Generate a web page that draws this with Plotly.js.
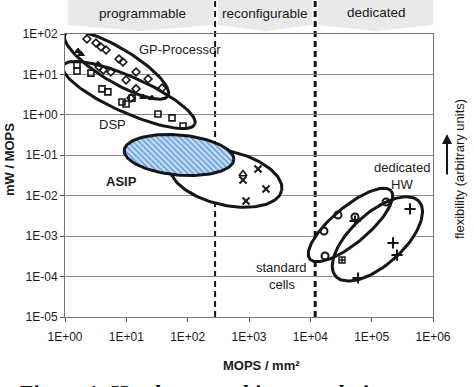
<!DOCTYPE html>
<html><head><meta charset="utf-8">
<script src="https://cdn.plot.ly/plotly-3.0.1.min.js"></script>
<style>html,body{margin:0;padding:0;background:#fff;}#chart{width:474px;height:387px;}</style>
</head><body><div id="chart"></div>
<script>
// ---------------- data ----------------
const xTickVals = [1, 10, 100, 1e3, 1e4, 1e5, 1e6];
const xTickText = ['1E+00','1E+01','1E+02','1E+03','1E+04','1E+05','1E+06'];
const yTickVals = [1e-5, 1e-4, 1e-3, 1e-2, 1e-1, 1, 10, 100];
const yTickText = ['1E-05','1E-04','1E-03','1E-02','1E-01','1E+00','1E+01','1E+02'];

const regionNames = ['programmable', 'reconfigurable', 'dedicated'];
const regionBounds = [280, 12000];   // MOPS/mm² at the dashed borders

const gpX = [2.28, 3.2, 3.86, 4.67, 7.6, 8.8, 14.4, 22.6, 38.2, 9.9, 14.4, 5.6, 4.2, 3.6, 11.9];
const gpY = [75.2, 59.8, 47.6, 40.2, 24.1, 20.3, 11.5, 7.7, 4.6, 7.3, 4.4, 11.5, 12.9, 15.3, 2.6];
const triX = [1.63, 1.82, 3.45, 18.7, 26.2];
const triY = [38, 32, 18.1, 2.77, 2.6];
const dspX = [1.57, 1.57, 2.65, 4.0, 5.0, 8.5, 9.9, 12.4, 32.8, 55.6, 84];
const dspY = [17.1, 12.2, 10.8, 4.4, 3.7, 2.08, 1.86, 2.6, 1.05, 0.84, 0.53];
const asipTriX = [798];
const asipTriY = [0.0344];
const asipX = [798, 1403, 1893, 894];
const asipY = [0.0245, 0.0458, 0.0147, 0.0074];
const cellX = [28250, 53500, 16700, 17350, 171400];
const cellY = [0.00334, 0.00298, 0.00134, 0.000323, 0.0070];
const hwX = [422000, 222900, 259000, 59900, 53500];
const hwY = [0.0047, 0.00068, 0.00034, 0.0000922, 0.00237];
const hwSqX = [32850];
const hwSqY = [0.000257];

// cluster outlines: centre (data units), semi-axes in px, rotation in degrees
const clusterNames = ['GP-Processor', 'DSP', 'ASIP range', 'ASIP', 'standard cells', 'dedicated HW'];
const clusterCX = [6.92, 11.05, 422, 72.3, 45200, 124000];
const clusterCY = [17.1, 3.1, 0.0274, 0.1016, 0.00189, 0.000855];
const clusterGeom = [
  {a: 60, b: 17, rot: 31, fill: 'none'},
  {a: 72, b: 18, rot: 24, fill: 'none'},
  {a: 57, b: 27, rot: 13, fill: 'white'},
  {a: 55, b: 20, rot: 5, fill: 'hatch'},
  {a: 53, b: 18, rot: -40, fill: 'white'},
  {a: 56, b: 26, rot: -42, fill: 'white'}
];

// ---------------- layout geometry ----------------
const W = 474, H = 387;
const M = {l: 65, r: 41, t: 34, b: 70};
const PW = W - M.l - M.r, PH = H - M.t - M.b;
const XR = [0, 6], YR = [-5, 2];
const sx = PW / (XR[1] - XR[0]), sy = PH / (YR[1] - YR[0]);
const px = v => (v - M.l) / PW;          // pixel -> paper
const py = v => (M.t + PH - v) / PH;

function ellipsePts(cx, cy, g) {
  const xs = [], ys = [];
  const lcx = Math.log10(cx), lcy = Math.log10(cy);
  const th = g.rot * Math.PI / 180;
  for (let i = 0; i <= 120; i++) {
    const t = i / 120 * 2 * Math.PI;
    const dx = g.a * Math.cos(t) * Math.cos(th) - g.b * Math.sin(t) * Math.sin(th);
    const dy = g.a * Math.cos(t) * Math.sin(th) + g.b * Math.sin(t) * Math.cos(th);
    xs.push(Math.pow(10, lcx + dx / sx));
    ys.push(Math.pow(10, lcy - dy / sy));
  }
  return {xs, ys};
}

const traces = [];
const INK = '#161616';
function outline(i, withFill) {
  const e = ellipsePts(clusterCX[i], clusterCY[i], clusterGeom[i]);
  const g = clusterGeom[i];
  const tr = {x: e.xs, y: e.ys, mode: 'lines', type: 'scatter', name: clusterNames[i],
    hoverinfo: 'skip', showlegend: false, line: {color: INK, width: 3}};
  if (withFill) {
    tr.fill = 'toself';
    if (g.fill === 'hatch') {
      tr.fillcolor = '#c4dbf3';
      tr.fillpattern = {shape: '\\', fgcolor: '#5f9fdc', bgcolor: '#c9def4', size: 4, solidity: 0.4};
    } else {
      tr.fillcolor = 'white';
    }
  }
  return tr;
}
function fillOnly(i) {
  const e = ellipsePts(clusterCX[i], clusterCY[i], clusterGeom[i]);
  return {x: e.xs, y: e.ys, mode: 'lines', type: 'scatter', hoverinfo: 'skip', showlegend: false,
    line: {width: 0, color: 'white'}, fill: 'toself', fillcolor: 'white'};
}
traces.push(outline(2, true));
traces.push(outline(3, true));
traces.push(fillOnly(4));
traces.push(fillOnly(5));
traces.push(outline(4, false));
traces.push(outline(5, false));
traces.push(outline(0, false));
traces.push(outline(1, false));

function pts(x, y, symbol, size, lw, name) {
  return {x, y, name, type: 'scatter', mode: 'markers', showlegend: false, hoverinfo: 'x+y',
    marker: {symbol, size, color: INK, line: {color: INK, width: lw}}};
}
traces.push(pts(gpX, gpY, 'diamond-open', 6, 1.6, 'GP-Processor'));
traces.push(pts(triX, triY, 'triangle-up', 6, 1, 'other'));
traces.push(pts(dspX, dspY, 'square-open', 6, 1.6, 'DSP'));
traces.push(pts(asipTriX, asipTriY, 'triangle-up-open', 7, 1.6, 'ASIP'));
traces.push(pts(asipX, asipY, 'x-thin-open', 7, 2, 'ASIP'));
traces.push(pts(cellX, cellY, 'circle-open', 7, 2, 'standard cells'));
traces.push(pts(hwX, hwY, 'cross-thin-open', 8, 2, 'dedicated HW'));
traces.push(pts(hwSqX, hwSqY, 'square-cross-open', 6, 1.4, 'dedicated HW'));

// ---------------- shapes ----------------
const shapes = [];
const banners = [[68, 213], [218, 312], [318, 433]];
banners.forEach(b => {
  const xm = (b[0] + b[1]) / 2;
  shapes.push({type: 'path', xref: 'paper', yref: 'paper', layer: 'below',
    path: `M${px(b[0])},${py(0)} L${px(b[1])},${py(0)} L${px(b[1])},${py(25)} L${px(xm)},${py(31)} L${px(b[0])},${py(25)} Z`,
    fillcolor: '#e9e9e9', line: {width: 0}});
});
regionBounds.forEach((v, i) => {
  const xp = (Math.log10(v) - XR[0]) / (XR[1] - XR[0]);
  shapes.push({type: 'line', xref: 'paper', yref: 'paper', layer: 'below',
    x0: xp, x1: xp, y0: 0, y1: py(0),
    line: {color: INK, width: i === 0 ? 2 : 3, dash: '6px,4px'}});
});

// ---------------- annotations ----------------
const F = 'Liberation Sans, Arial, sans-serif';
function txt(t, x, y, opt) {
  return Object.assign({text: t, xref: 'paper', yref: 'paper', x: px(x), y: py(y), showarrow: false,
    xanchor: 'center', yanchor: 'middle', font: {family: F, size: 13, color: '#1a1a1a'}}, opt || {});
}
const hdrFont = {family: F, size: 13.5, color: '#1a1a1a'};
const annotations = [
  txt(regionNames[0], 142, 14, {font: hdrFont}),
  txt(regionNames[1], 265, 14, {font: hdrFont}),
  txt(regionNames[2], 376, 13, {font: hdrFont}),
  txt('GP-Processor', 180, 49),
  txt('DSP', 112, 124),
  txt('<b>ASIP</b>', 121, 182),
  txt('standard', 281, 267),
  txt('cells', 282, 284),
  txt('dedicated', 402, 167),
  txt('HW', 402, 184),
  txt('<b>MOPS / mm²</b>', 261, 365),
  txt('<b>mW / MOPS</b>', 9, 160, {textangle: -90}),
  txt('flexibility (arbitrary units)', 460, 169, {textangle: -90}),
  {text: '', xref: 'paper', yref: 'paper', x: px(447), y: py(134), ax: 0, ay: 42,
    showarrow: true, arrowhead: 2, arrowsize: 1, arrowwidth: 2, arrowcolor: INK},
  {text: '<b>Figure 1: Hardware architecture design space</b>', xref: 'paper', yref: 'paper',
    x: px(18), y: py(392), xanchor: 'left', yanchor: 'middle', showarrow: false,
    font: {family: 'Liberation Serif, Times New Roman, serif', size: 22, color: '#111'}}
];

const axFont = {family: F, size: 12, color: '#1a1a1a'};
const layout = {
  width: W, height: H, margin: M,
  paper_bgcolor: '#ffffff', plot_bgcolor: 'rgba(0,0,0,0)',
  showlegend: false,
  xaxis: {type: 'log', range: XR, tickvals: xTickVals, ticktext: xTickText, ticks: 'outside',
    ticklen: 4, tickcolor: '#555', showgrid: false, showline: true, linecolor: '#777', linewidth: 1,
    mirror: true, tickfont: axFont, zeroline: false, ticklabelstandoff: 5, fixedrange: true},
  yaxis: {type: 'log', range: YR, tickvals: yTickVals, ticktext: yTickText, ticks: 'outside',
    ticklen: 4, tickcolor: '#555', showgrid: true, gridcolor: '#8a8a8a', gridwidth: 1,
    showline: true, linecolor: '#777', linewidth: 1, mirror: true, tickfont: axFont,
    zeroline: false, fixedrange: true},
  shapes, annotations
};
Plotly.newPlot('chart', traces, layout, {displayModeBar: false, staticPlot: true});
</script></body></html>
